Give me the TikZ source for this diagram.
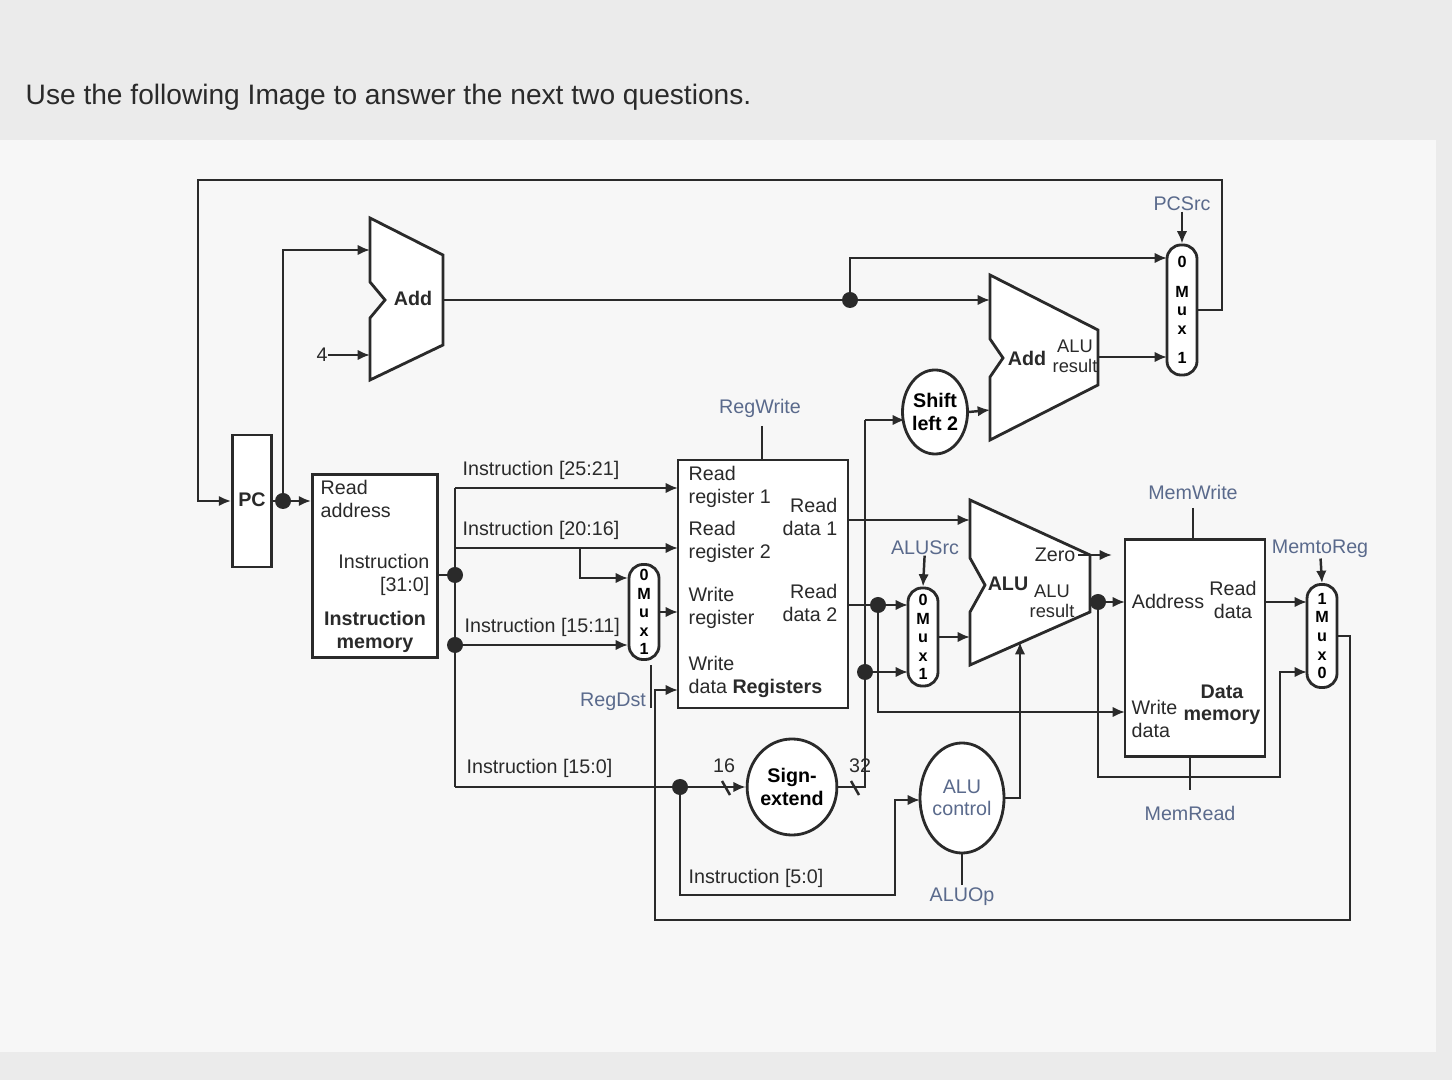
\documentclass[tikz,border=0pt]{standalone}
\usepackage{fontspec}
\setmainfont{Liberation Sans}
\usetikzlibrary{arrows.meta,positioning,shapes.geometric}
\definecolor{sig}{HTML}{5A6A8C}
\definecolor{ink}{HTML}{2A2A2A}
\tikzset{%
   wire/.style={draw=ink, line width=0.7pt},
   arr/.style={wire, -{Latex[length=3.5pt,width=3pt]}},
   dot/.style={circle, inner sep=0mm, minimum size=1.6mm, fill=ink},
   box/.style={draw=ink, line width=0.8pt, fill=white},
   mux/.style={draw=ink, line width=0.8pt, fill=white, rounded corners=1.4mm,
     minimum width=3mm, inner sep=0pt, align=center, font=\fontsize{4.6}{5.3}\selectfont\bfseries},
   oval/.style={draw=ink, line width=0.8pt, fill=white, ellipse, inner sep=0pt, align=center},
   txt/.style={inner sep=0pt, align=left, text=ink},
   ctl/.style={inner sep=0pt, text=sig},
}
\begin{document}
\begin{tikzpicture}[x=0.01cm, y=-0.01cm, font=\fontsize{5.6}{6.4}\selectfont]
\useasboundingbox (0,0) rectangle (1452,1080);
\fill[black!8] (0,0) rectangle (1452,1080);
\fill[black!3] (0,140) rectangle (1436,1052);
\node[txt, anchor=west, font=\fontsize{8}{9}\selectfont] at (25,97) {Use the following Image to answer the next two questions.};

% blocks
\node[box, minimum width=0.39cm, minimum height=1.32cm] (pc) at (252,501) {};
\node[txt, font=\fontsize{5.6}{6.4}\selectfont\bfseries] at (252,500) {PC};
\node[box, minimum width=1.25cm, minimum height=1.83cm] (imem) at (375,566) {};
\node[txt, anchor=north west] at (320,480) {Read\\address};
\node[txt, align=right, anchor=east] at (430,575) {Instruction\\{[31:0]}};
\node[txt, align=center, font=\fontsize{5.6}{6.4}\selectfont\bfseries] at (375,632) {Instruction\\memory};

\draw[box] (370,218) -- (443,255) -- (443,345) -- (370,380) -- (370,318) -- (385,300) -- (370,282) -- cycle;
\node[txt, font=\fontsize{5.6}{6.4}\selectfont\bfseries] (add) at (413,298) {Add};
\coordinate (addout) at (443,300);
\coordinate (addin) at (370,250);
\node[txt] (four) at (322,355) {4};

\node[box, minimum width=1.70cm, minimum height=2.48cm] (regs) at (763,584) {};
\node[txt, anchor=north west] at (688,466) {Read\\register 1};
\node[txt, anchor=north west] at (688,521) {Read\\register 2};
\node[txt, anchor=north west] at (688,587) {Write\\register};
\node[txt, anchor=north west] at (688,656) {Write\\data \textbf{Registers}};
\node[txt, align=right, anchor=north east] at (838,498) {Read\\data 1};
\node[txt, align=right, anchor=north east] at (838,584) {Read\\data 2};
\node[ctl] (regwrite) at (760,408) {RegWrite};

\node[mux, minimum height=0.95cm] (muxdst) at (644,612) {0\\M\\u\\x\\1};
\node[ctl] (regdst) at (613,702) {RegDst};

\node[oval, minimum width=0.70cm, minimum height=0.96cm, font=\fontsize{5.6}{6.4}\selectfont\bfseries] (sext) at (792,787) {Sign-\\extend};
\node[oval, minimum width=0.60cm, minimum height=0.84cm, font=\fontsize{5.6}{6.4}\selectfont\bfseries] (shl) at (935,412) {Shift\\left 2};

\draw[box] (990,275) -- (1098,330) -- (1098,385) -- (990,440) -- (990,377) -- (1003,358) -- (990,339) -- cycle;
\node[txt, font=\fontsize{5.6}{6.4}\selectfont\bfseries] at (1027,358) {Add};
\node[txt, align=center, font=\fontsize{5.2}{5.6}\selectfont] at (1075,356) {ALU\\result};

\node[mux, minimum height=1.30cm] (muxpc) at (1182,310) {0\\[3pt]M\\u\\x\\[3pt]1};
\node[ctl] (pcsrc) at (1182,204) {PCSrc};

\node[mux, minimum height=0.98cm] (muxalu) at (923,637) {0\\M\\u\\x\\1};
\node[ctl] (alusrc) at (925,548) {ALUSrc};

\draw[box] (970,500) -- (1090,555) -- (1090,612) -- (970,665) -- (970,612) -- (985,585) -- (970,558) -- cycle;
\node[txt] at (1055,555) {Zero};
\node[txt, font=\fontsize{5.6}{6.4}\selectfont\bfseries] at (1008,584) {ALU};
\node[txt, align=center, font=\fontsize{5.2}{5.8}\selectfont] at (1052,601) {ALU\\result};

\node[oval, minimum width=0.84cm, minimum height=1.10cm, text=sig] (aluctl) at (962,798) {ALU\\control};
\node[ctl] (aluop) at (962,897) {ALUOp};

\node[box, minimum width=1.40cm, minimum height=2.17cm] (dmem) at (1195,648) {};
\node[txt] at (1168,601) {Address};
\node[txt, align=center] at (1233,600) {Read\\data};
\node[txt, anchor=north west] at (1131,700) {Write\\data};
\node[txt, align=center, font=\fontsize{5.6}{6.4}\selectfont\bfseries] at (1222,705) {Data\\memory};
\node[ctl] (memwrite) at (1193,492) {MemWrite};
\node[ctl] (memread) at (1190,813) {MemRead};

\node[mux, minimum height=1.03cm] (muxmem) at (1322,636) {1\\M\\u\\x\\0};
\node[ctl] (memtoreg) at (1320,549) {MemtoReg};

% wires
\coordinate (pcdot) at (283,501);
\draw[arr] (muxpc.east) -- (1222,310) |- (198,180) |- (pc.west);
\draw[arr] (pc.east) -- (imem.west |- pc.east);
\node[dot] at (pcdot) {};
\draw[arr] (pcdot) |- (addin);
\draw[arr] (four) -- (370,355);
\coordinate (bdot) at (850,300);
\draw[arr] (addout) -- (990,300);
\node[dot] at (bdot) {};
\draw[arr] (bdot) |- (1167,258);
\draw[arr] (1098,357) -- (1167,357);
\draw[arr] (pcsrc) -- (muxpc.north);
\draw[arr] (shl.east) -- (990,410);

\coordinate (ibus) at (455,575);
\draw[wire] (imem.east |- ibus) -- (ibus);
\draw[wire] (455,488) -- (455,787);
\node[dot] at (ibus) {};
\node[dot] at (455,645) {};
\draw[arr] (455,488) -- (678,488);
\node[txt, anchor=west] at (462,470) {Instruction [25:21]};
\draw[arr] (455,548) -- (678,548);
\node[txt, anchor=west] at (462,530) {Instruction [20:16]};
\draw[arr] (580,548) -- (580,578) -- (628,578);
\draw[arr] (455,645) -- (628,645);
\node[txt, anchor=west] at (464,627) {Instruction [15:11]};
\draw[arr] (455,787) -- (sext.west);
\node[txt, anchor=west] at (466,768) {Instruction [15:0]};
\node[dot] at (680,787) {};
\draw[wire] (722,781) -- (730,795);
\node[txt] at (724,766) {16};
\draw[arr] (muxdst.east) -- (678,612);
\draw[wire] (651,708) -- (651,665);
\draw[wire] (regwrite.south) ++(2,8) -- (762,460);

\draw[arr] (848,520) -- (970,520);
\coordinate (rd2) at (878,605);
\draw[arr] (848,605) -- (908,605);
\node[dot] at (rd2) {};
\draw[arr] (rd2) |- (1125,712);
\draw[wire] (sext.east) -- (865,787) -- (865,420);
\draw[arr] (865,420) -- (905,420);
\draw[wire] (851,781) -- (859,795);
\node[txt] at (860,766) {32};
\node[dot] at (865,672) {};
\draw[arr] (865,672) -- (908,672);
\draw[arr] (alusrc) -- (muxalu.north);
\draw[arr] (muxalu.east) -- (970,637);

\draw[arr] (680,787) |- (895,895) |- (920,800);
\node[txt, anchor=west] at (688,878) {Instruction [5:0]};
\draw[arr] (aluctl.east) -- (1020,798) -- (1020,642);
\draw[wire] (aluop) ++(0,-12) -- (aluctl.south);

\draw[arr] (1078,555) -- (1112,555);
\coordinate (res) at (1098,602);
\draw[arr] (1090,602) -- (1125,602);
\node[dot] at (res) {};
\draw[arr] (res) |- (1280,777) |- (1307,672);
\draw[arr] (1265,602) -- (1307,602);
\draw[wire] (memwrite) ++(0,16) -- (1193,540);
\draw[wire] (1190,757) -- (1190,790);
\draw[arr] (memtoreg) -- (muxmem.north);
\draw[arr] (muxmem.east) -- (1350,636) |- (655,920) |- (678,690);
\end{tikzpicture}
\end{document}
